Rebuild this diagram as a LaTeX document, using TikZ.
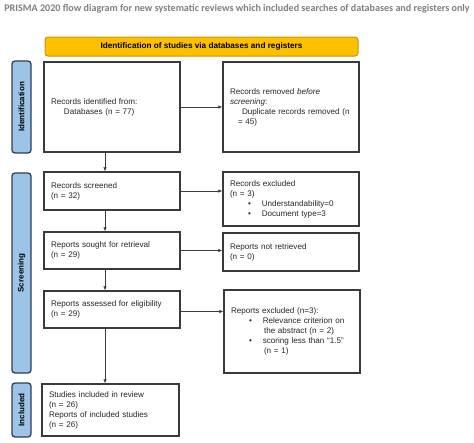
\documentclass[tikz,border=0pt]{standalone}
\usepackage{fontspec}
\setmainfont{Liberation Sans}
\newfontfamily\titlefont{Carlito}
\usetikzlibrary{arrows.meta}
\definecolor{boxline}{HTML}{3A3A3A}
\definecolor{gold}{HTML}{FFC000}
\definecolor{goldline}{HTML}{C99700}
\definecolor{barfill}{HTML}{9DC3E6}
\definecolor{barline}{HTML}{2E3F55}
\definecolor{titlegray}{HTML}{808080}
\tikzset{
  x=1pt, y=1pt,
  flowbox/.style={draw=boxline, line width=1.3pt, fill=white, inner xsep=7pt, inner ysep=0pt,
    align=left, anchor=center, font=\fontsize{8.1}{10}\selectfont, text=black!85},
  sidebar/.style={draw=barline, line width=1.3pt, fill=barfill, rounded corners=3pt,
    minimum height=19pt, inner sep=0pt, font=\bfseries\fontsize{8}{9}\selectfont, rotate=90},
  arr/.style={draw=boxline, line width=0.7pt, -{Latex[length=4pt,width=3.6pt]}}
}
\newcommand{\bul}{\hspace*{18pt}\textbullet\hspace{11pt}}
\begin{document}
\begin{tikzpicture}
\useasboundingbox (0,0) rectangle (474,-442);
\fill[white] (0,0) rectangle (474,-442);
\node[font=\titlefont\bfseries\fontsize{10.1}{12}\selectfont, text=titlegray] (title) at (237,-9)
  {PRISMA 2020 flow diagram for new systematic reviews which included searches of databases and registers only};
\node[draw=goldline, line width=1pt, fill=gold, rounded corners=3pt, minimum width=313pt, minimum height=19pt,
  inner sep=0pt, font=\bfseries\fontsize{8.2}{9}\selectfont] (banner) at (201.5,-46.5)
  {Identification of studies via databases and registers};
\node[sidebar, minimum width=92pt] (idbar) at (21.5,-107) {Identification};
\node[sidebar, minimum width=200pt] (scrbar) at (21.5,-273) {Screening};
\node[sidebar, minimum width=54pt] (incbar) at (21.5,-410) {Included};

\node[flowbox, text width=122pt, minimum height=90pt] (rec) at (112,-107)
  {Records identified from:\\\hspace*{13pt}Databases (n = 77)};
\node[flowbox, text width=122pt, minimum height=90pt] (removed) at (291,-107)
  {Records removed \textit{before}\\\textit{screening}:\\\hspace*{12pt}Duplicate records removed (n\\\hspace*{8pt}= 45)};
\node[flowbox, text width=122pt, minimum height=38pt] (screened) at (112,-191)
  {Records screened\\(n = 32)};
\node[flowbox, text width=122pt, minimum height=54pt] (excluded) at (291,-199)
  {Records excluded\\(n = 3)\\\bul Understandability=0\\\bul Document type=3};
\node[flowbox, text width=122pt, minimum height=37pt] (sought) at (112,-250.5)
  {Reports sought for retrieval\\(n = 29)};
\node[flowbox, text width=122pt, minimum height=38pt] (notret) at (291,-252)
  {Reports not retrieved\\(n = 0)};
\node[flowbox, text width=122pt, minimum height=37pt] (assessed) at (112,-309.5)
  {Reports assessed for eligibility\\(n = 29)};
\node[flowbox, text width=122pt, minimum height=83pt] (repexcl) at (292,-331.5)
  {Reports excluded (n=3):\\\bul Relevance criterion on\\\hspace*{33pt}the abstract (n = 2)\\\bul scoring less than ``1.5''\\\hspace*{33pt}(n = 1)};
\node[flowbox, text width=123pt, minimum height=52pt] (included) at (110.5,-410)
  {Studies included in review\\(n = 26)\\Reports of included studies\\(n = 26)};

\draw[arr] (rec.east) -- (removed.west);
\draw[arr] ([xshift=-7pt]rec.south) -- ([xshift=-7pt]screened.north);
\draw[arr] (screened.east) -- (screened.east -| excluded.west);
\draw[arr] ([xshift=-7pt]screened.south) -- ([xshift=-7pt]sought.north);
\draw[arr] (sought.east) -- (sought.east -| notret.west);
\draw[arr] ([xshift=-7pt]sought.south) -- ([xshift=-7pt]assessed.north);
\draw[arr] ([yshift=-2pt]assessed.east) -- ([yshift=-2pt]assessed.east -| repexcl.west);
\draw[arr] ([xshift=-7pt]assessed.south) -- ([xshift=-5.5pt]included.north);
\end{tikzpicture}
\end{document}
